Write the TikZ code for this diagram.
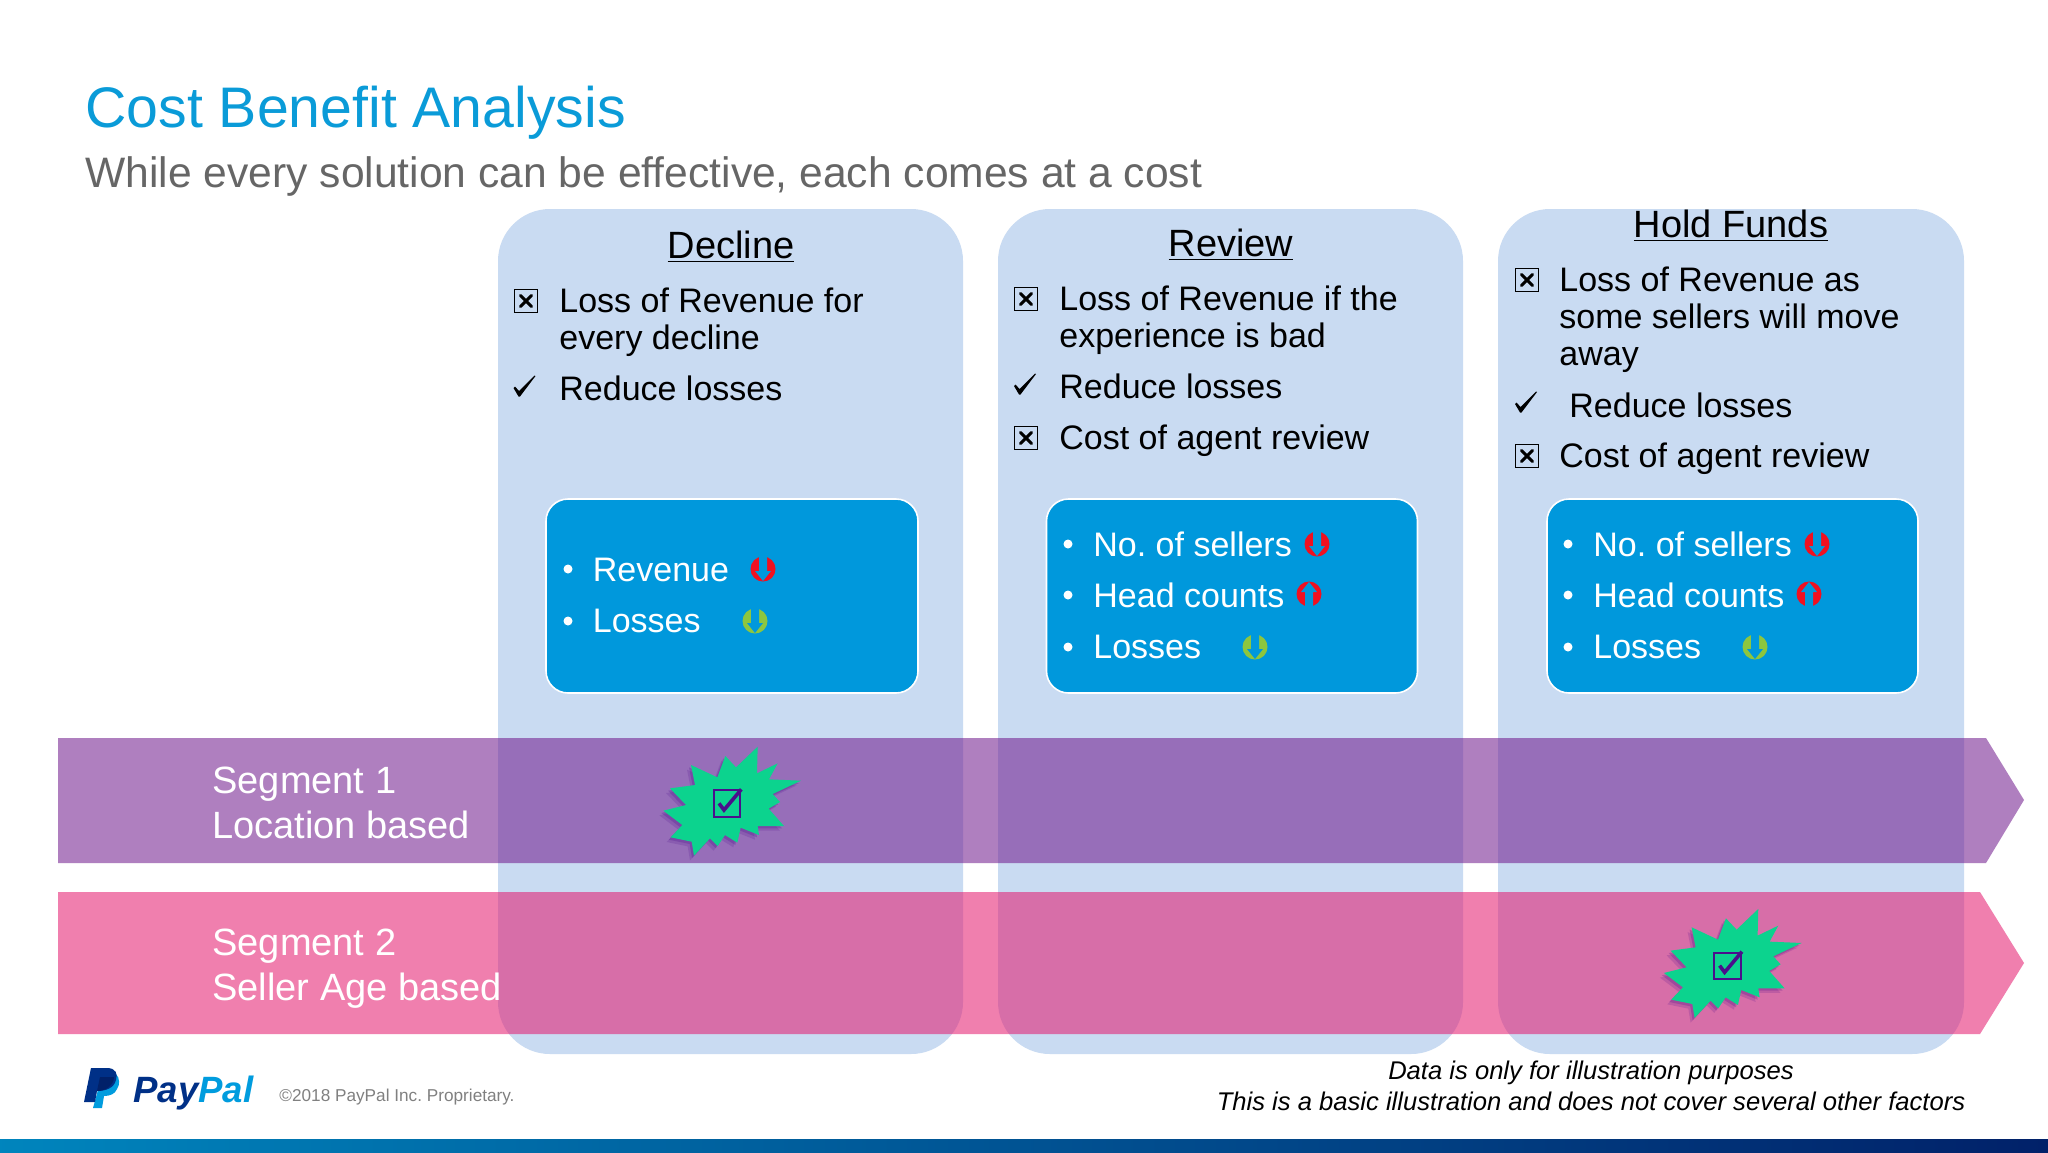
\documentclass[tikz,border=0pt]{standalone}
\usepackage{fontspec}
\setmainfont{Liberation Sans}
\usetikzlibrary{calc}
\frenchspacing
\definecolor{titleblue}{HTML}{0A9BD8}
\definecolor{subgrey}{HTML}{666666}
\definecolor{cardblue}{HTML}{C9DBF2}
\definecolor{boxblue}{HTML}{0098DC}
\definecolor{bandpurple}{HTML}{6F168B}
\definecolor{bandpink}{HTML}{E4166C}
\definecolor{burstgreen}{HTML}{0CD38E}
\definecolor{tickpurple}{HTML}{4B0F8C}
\definecolor{markred}{HTML}{F01020}
\definecolor{markgreen}{HTML}{8DC63F}
\definecolor{ppdark}{HTML}{003087}
\definecolor{ppdeep}{HTML}{012169}
\definecolor{pplight}{HTML}{009CDE}
\tikzset{
	plain/.style={inner sep=0, anchor=base west},
	cardhead/.style={inner sep=0, anchor=base, font=\fontsize{19}{22}\selectfont},
	cardline/.style={plain, font=\fontsize{17}{20}\selectfont},
	boxline/.style={plain, text=white, font=\fontsize{17}{20}\selectfont},
	segline/.style={plain, text=white, font=\fontsize{19}{22}\selectfont},
	noteline/.style={inner sep=0, anchor=base, font=\fontsize{12.8}{16}\itshape\selectfont},
	card/.style={fill=cardblue, rounded corners=26pt},
	infobox/.style={fill=boxblue, draw=white, line width=0.8pt, rounded corners=11pt},
}
\def\dotmark(#1,#2){\fill[white] (#1,#2) circle (4.5);}
\def\crossmark(#1,#2){\begin{scope}[shift={(#1,#2)}]
		\draw[black, line width=0.9pt] (-11.5, -11.5) rectangle (11.5, 11.5);
		\draw[black, line width=1.5pt, line cap=round] (-5.5, -5.5) -- (5.5, 5.5);
		\draw[black, line width=1.5pt, line cap=round] (5.5, -5.5) -- (-5.5, 5.5);
	\end{scope}}
\def\tickmark(#1,#2){\fill[black, shift={(#1,#2)}] (-11, 2) -- (-9.5, 0.5) -- (-5.5, 5) -- (10, -10.5) -- (11, -10) -- (-4.5, 10.5) -- (-6, 10.5) -- cycle;}
\def\downmark[#1](#2,#3){\fill[#1] (#2,#3) circle (12.5);
	\fill[boxblue, shift={(#2,#3)}] (-4, -13) -- (4, -13) -- (4, 2) -- (8, 2) -- (0, 12) -- (-8, 2) -- (-4, 2) -- cycle;}
\def\upmark[#1](#2,#3){\fill[#1] (#2,#3) circle (12.5);
	\fill[boxblue, shift={(#2,#3)}] (-4, 13) -- (4, 13) -- (4, -2) -- (8, -2) -- (0, -12) -- (-8, -2) -- (-4, -2) -- cycle;}
\def\burstpath{(413,80) -- (411,160) -- (473,130) -- (447,178) -- (543,182) -- (458,222) -- (480,246) -- (446,266) -- (492,318) -- (413,318) -- (417,345) -- (362,323) -- (352,368) -- (315,345) -- (293,378) -- (270,355) -- (222,407) -- (215,365) -- (152,352) -- (187,315) -- (130,272) -- (198,255) -- (150,205) -- (225,195) -- (213,135) -- (292,172) -- (316,108) -- (348,142) -- cycle}
\def\burst(#1,#2){\begin{scope}[shift={(#1,#2)}, scale=1/3]
		\fill[tickpurple, opacity=0.18] [shift={(-12,14)}] \burstpath;
		\fill[tickpurple, opacity=0.25] [shift={(-6,7)}] \burstpath;
		\fill[burstgreen] \burstpath;
		\draw[tickpurple, line width=1.1pt] (281,211) rectangle (360,290);
		\draw[tickpurple, line width=1.8pt] (297,250) -- (312,270) -- (364,208);
	\end{scope}}

\begin{document}
\begin{tikzpicture}[x=0.5pt, y=-0.5pt]
		%%%%% START %%%%%
		\useasboundingbox (0, 0) rectangle (2048, 1152);
		\fill[white] (0, 0) rectangle (2048, 1152);
		
		\node[plain, text=titleblue, font=\fontsize{28.6}{34}\selectfont] (title) at (85, 127) {Cost Benefit Analysis};
		\node[plain, text=subgrey, font=\fontsize{21.3}{25}\selectfont] (subtitle) at (85, 187) {While every solution can be effective, each comes at a cost};
		
		\fill[card] (498, 209) rectangle (963, 1054);
		\fill[card] (998, 209) rectangle (1463, 1054);
		\fill[card] (1498, 209) rectangle (1964, 1054);
		
		\draw[infobox] (546, 499) rectangle (918, 693);
		\draw[infobox] (1046.5, 499) rectangle (1417.5, 693);
		\draw[infobox] (1547, 499) rectangle (1918, 693);
		
		% decline
		\node[cardhead] (declinehead) at (731, 258) {\underline{Decline}};
		\crossmark(526, 301);
		\node[cardline] (declineloss) at (559, 312) {Loss of Revenue for};
		\node[cardline] (declinelossb) at (559, 349) {every decline};
		\tickmark(524.5, 386);
		\node[cardline] (declinereduce) at (559, 400) {Reduce losses};
		
		\dotmark(568, 569);
		\node[boxline] (declinerev) at (592.5, 581) {Revenue};
		\downmark[markred](763, 569);
		\dotmark(568, 621);
		\node[boxline] (declinelosses) at (592.5, 632) {Losses};
		\downmark[markgreen](755, 621);
		
		% review
		\node[cardhead] (reviewhead) at (1231, 256) {\underline{Review}};
		\crossmark(1026, 299);
		\node[cardline] (reviewloss) at (1059, 310) {Loss of Revenue if the};
		\node[cardline] (reviewlossb) at (1059, 347) {experience is bad};
		\tickmark(1025, 384);
		\node[cardline] (reviewreduce) at (1059, 398) {Reduce losses};
		\crossmark(1026, 438);
		\node[cardline] (reviewcost) at (1059, 449) {Cost of agent review};
		
		\dotmark(1068, 544);
		\node[boxline] (reviewsell) at (1093, 556) {No. of sellers};
		\downmark[markred](1317, 544);
		\dotmark(1068, 595);
		\node[boxline] (reviewhc) at (1093, 607) {Head counts};
		\upmark[markred](1309, 594);
		\dotmark(1068, 647);
		\node[boxline] (reviewlosses) at (1093, 658) {Losses};
		\downmark[markgreen](1255, 647);
		
		% hold funds
		\node[cardhead] (holdhead) at (1731, 237) {\underline{Hold Funds}};
		\crossmark(1527, 280);
		\node[cardline] (holdloss) at (1559, 291) {Loss of Revenue as};
		\node[cardline] (holdlossb) at (1559, 328) {some sellers will move};
		\node[cardline] (holdlossc) at (1559, 365) {away};
		\tickmark(1526, 402);
		\node[cardline] (holdreduce) at (1569, 417) {Reduce losses};
		\crossmark(1527, 456);
		\node[cardline] (holdcost) at (1559, 467) {Cost of agent review};
		
		\dotmark(1568, 544);
		\node[boxline] (holdsell) at (1593, 556) {No. of sellers};
		\downmark[markred](1817, 544);
		\dotmark(1568, 595);
		\node[boxline] (holdhc) at (1593, 607) {Head counts};
		\upmark[markred](1809, 594);
		\dotmark(1568, 647);
		\node[boxline] (holdlosses) at (1593, 658) {Losses};
		\downmark[markgreen](1755, 647);
		
		% bands
		\fill[bandpurple, opacity=0.55] (58, 738) -- (1986, 738) -- (2024, 800) -- (1986, 863) -- (58, 863) -- cycle;
		\fill[bandpink, opacity=0.55] (58, 892) -- (1980, 892) -- (2024, 963) -- (1980, 1034) -- (58, 1034) -- cycle;
		
		\node[segline] (segonea) at (212, 793) {Segment 1};
		\node[segline] (segoneb) at (212, 838) {Location based};
		\node[segline] (segtwoa) at (212, 955) {Segment 2};
		\node[segline] (segtwob) at (212, 1000) {Seller Age based};
		
		\burst(620, 720);
		\burst(1620.6, 882.3);
		
		% footer
		\node[noteline] (notea) at (1591, 1079) {Data is only for illustration purposes};
		\node[noteline] (noteb) at (1591, 1110) {This is a basic illustration and does not cover several other factors};
		
		\fill[pplight] (98, 1090) -- (116, 1074) .. controls (120, 1078) and (120, 1085) .. (117, 1089) .. controls (115, 1094) and (110, 1096) .. (104, 1096) -- (102, 1108) -- (93, 1108) -- cycle;
		\fill[ppdark] (84, 1102) -- (91, 1068) -- (107, 1068) .. controls (116, 1068) and (118, 1074) .. (116, 1080) .. controls (114, 1088) and (106, 1091) .. (97, 1091) -- (95, 1102) -- cycle;
		\fill[ppdeep] (97, 1091) -- (100, 1077) -- (114, 1077) .. controls (114, 1085) and (106, 1091) .. (97, 1091) -- cycle;
		\node[plain, font=\fontsize{18.3}{22}\bfseries\itshape\selectfont] (logo) at (133, 1102) {\textcolor{ppdark}{Pay}\textcolor{pplight}{Pal}};
		\node[plain, text=black!50, font=\fontsize{8.6}{11}\selectfont] (copyr) at (279, 1101) {©2018 PayPal Inc. Proprietary.};
		
		\shade[left color=pplight!85!black, middle color=pplight!60!ppdark, right color=ppdeep] (0, 1139) rectangle (2048, 1152);
		%%%%% END %%%%%
	\end{tikzpicture}
\end{document}
